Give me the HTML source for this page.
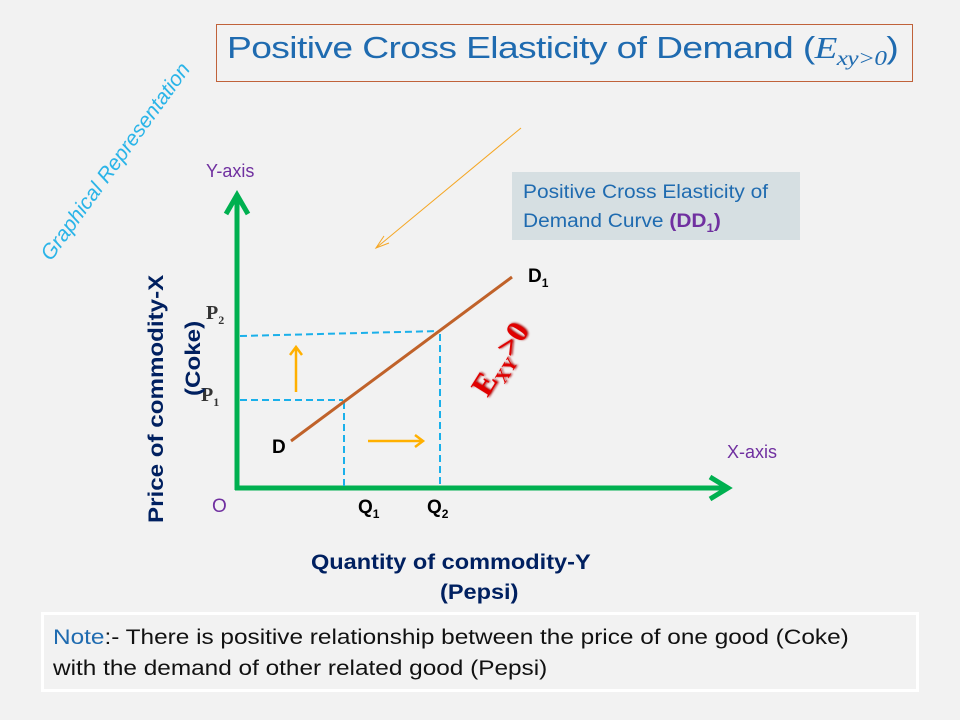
<!DOCTYPE html>
<html><head><meta charset="utf-8"><style>
body{margin:0;width:960px;height:720px;background:#f2f2f2;position:relative;overflow:hidden;font-family:"Liberation Sans",sans-serif}
.a{position:absolute;white-space:nowrap}
</style></head><body>
<div class="a" style="left:216px;top:24px;width:695px;height:56px;border:1px solid #c0623a;"></div>
<div class="a" style="left:227px;top:30px;font-size:31px;color:#1f6bb0;letter-spacing:-0.5px;transform:scaleX(1.2);transform-origin:0 0">Positive Cross Elasticity of Demand (<i style="font-family:'Liberation Serif',serif">E<sub style="font-size:21px">xy&gt;0</sub></i>)</div>
<div class="a" style="left:-14px;top:150px;font-size:21px;color:#2ab4e8;font-style:italic;transform:rotate(-54deg);transform-origin:center;width:260px;text-align:center">Graphical Representation</div>
<div class="a" style="left:206px;top:161px;font-size:18px;color:#7030a0;">Y-axis</div>
<div class="a" style="left:727px;top:442px;font-size:18px;color:#7030a0;">X-axis</div>
<div class="a" style="left:512px;top:172px;width:288px;height:68px;background:#d6dfe2;"></div>
<div class="a" style="left:523px;top:178px;font-size:19px;color:#1f6bb0;line-height:29px;transform:scaleX(1.1);transform-origin:0 0">Positive Cross Elasticity of<br>Demand Curve <b style="color:#7030a0">(DD<sub style="font-size:12px">1</sub>)</b></div>
<svg class="a" style="left:0;top:0" width="960" height="720">
<line x1="521" y1="128" x2="376" y2="248" stroke="#f5a623" stroke-width="1"/>
<polyline points="384,236 376,248 389,243" fill="none" stroke="#f5a623" stroke-width="1"/>
<g stroke="#00b050" stroke-width="5" fill="none">
<line x1="237" y1="490" x2="237" y2="195"/>
<polyline points="226,214 237,195 248,214"/>
<line x1="235" y1="488" x2="728" y2="488"/>
<polyline points="710,477 728,488 710,499"/>
</g>
<g stroke="#1ab0ea" stroke-width="2" stroke-dasharray="7,4" fill="none">
<line x1="240" y1="336" x2="440" y2="331"/>
<line x1="440" y1="334" x2="440" y2="488"/>
<line x1="240" y1="400" x2="343" y2="400"/>
<line x1="344" y1="402" x2="344" y2="488"/>
</g>
<line x1="291" y1="441" x2="512" y2="277" stroke="#c0622a" stroke-width="3"/>
<g stroke="#ffb000" stroke-width="2.5" fill="none">
<line x1="296" y1="392" x2="296" y2="347"/><polyline points="290,355 296,347 302,355"/>
<line x1="368" y1="441" x2="423" y2="441"/><polyline points="415,435 423,441 415,447"/>
</g>
</svg>
<div class="a" style="left:528px;top:266px;font-size:19px;font-weight:bold;">D<sub style="font-size:12px">1</sub></div>
<div class="a" style="left:272px;top:437px;font-size:19px;font-weight:bold;">D</div>
<div class="a" style="left:358px;top:497px;font-size:19px;font-weight:bold;">Q<sub style="font-size:12px">1</sub></div>
<div class="a" style="left:427px;top:497px;font-size:19px;font-weight:bold;">Q<sub style="font-size:12px">2</sub></div>
<div class="a" style="left:212px;top:496px;font-size:19px;color:#7030a0;">O</div>
<div class="a" style="left:206px;top:302px;font-size:20px;font-weight:bold;font-family:'Liberation Serif',serif;color:#333">P<sub style="font-size:12px">2</sub></div>
<div class="a" style="left:201px;top:384px;font-size:20px;font-weight:bold;font-family:'Liberation Serif',serif;color:#333">P<sub style="font-size:12px">1</sub></div>
<div class="a" style="font-size:21px;font-weight:bold;color:#002060;transform:rotate(-90deg) scaleX(1.15);transform-origin:0 0;left:145px;top:523px;">Price of commodity-X</div>
<div class="a" style="font-size:21px;font-weight:bold;color:#002060;transform:rotate(-90deg) scaleX(1.15);transform-origin:0 0;left:182px;top:396px;">(Coke)</div>
<div class="a" style="left:462px;top:340px;font-size:31px;font-weight:bold;color:#e00000;font-family:'Liberation Serif',serif;transform:rotate(-58deg);transform-origin:center;text-shadow:1px 1px 2px #a00">E<sub style="font-size:18px">XY</sub>&gt;0</div>
<div class="a" style="left:311px;top:551px;font-size:21px;font-weight:bold;color:#002060;transform:scaleX(1.12);transform-origin:0 0">Quantity of commodity-Y</div>
<div class="a" style="left:440px;top:581px;font-size:21px;font-weight:bold;color:#002060;transform:scaleX(1.12);transform-origin:0 0">(Pepsi)</div>
<div class="a" style="left:41px;top:612px;width:872px;height:74px;border:3px solid #fff;"></div>
<div class="a" style="left:53px;top:622px;font-size:21px;line-height:31px;color:#111;transform:scaleX(1.16);transform-origin:0 0"><span style="color:#1f6bb0">Note</span>:- There is positive relationship between the price of one good (Coke)<br>with the demand of other related good (Pepsi)</div>
</body></html>
